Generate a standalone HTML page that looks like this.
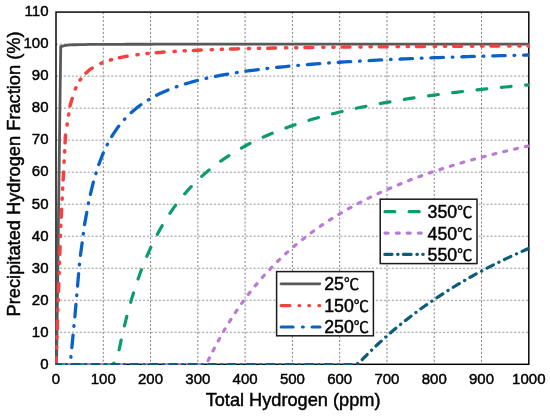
<!DOCTYPE html>
<html><head><meta charset="utf-8"><style>
html,body{margin:0;padding:0;background:#fff;}
svg{display:block;font-family:"Liberation Sans","Noto Sans CJK SC",sans-serif;}
.t text{stroke:#000;stroke-width:0.45px;}
</style></head><body>
<svg width="550" height="418" viewBox="0 0 550 418">
<defs><clipPath id="cp"><rect x="55.20" y="11.28" width="474.40" height="353.82"/></clipPath></defs>
<rect width="550" height="418" fill="#fff"/>
<g stroke="#747474" stroke-width="0.9" stroke-dasharray="2.1,1.85" fill="none"><line x1="103.28" y1="12.08" x2="103.28" y2="364.30"/><line x1="150.56" y1="12.08" x2="150.56" y2="364.30"/><line x1="197.84" y1="12.08" x2="197.84" y2="364.30"/><line x1="245.12" y1="12.08" x2="245.12" y2="364.30"/><line x1="292.40" y1="12.08" x2="292.40" y2="364.30"/><line x1="339.68" y1="12.08" x2="339.68" y2="364.30"/><line x1="386.96" y1="12.08" x2="386.96" y2="364.30"/><line x1="434.24" y1="12.08" x2="434.24" y2="364.30"/><line x1="481.52" y1="12.08" x2="481.52" y2="364.30"/></g>
<g stroke="#7c7c7c" stroke-width="0.8" stroke-dasharray="2.1,1.85" fill="none"><line x1="56.00" y1="332.28" x2="528.80" y2="332.28"/><line x1="56.00" y1="300.26" x2="528.80" y2="300.26"/><line x1="56.00" y1="268.24" x2="528.80" y2="268.24"/><line x1="56.00" y1="236.22" x2="528.80" y2="236.22"/><line x1="56.00" y1="204.20" x2="528.80" y2="204.20"/><line x1="56.00" y1="172.18" x2="528.80" y2="172.18"/><line x1="56.00" y1="140.16" x2="528.80" y2="140.16"/><line x1="56.00" y1="108.14" x2="528.80" y2="108.14"/><line x1="56.00" y1="76.12" x2="528.80" y2="76.12"/><line x1="56.00" y1="44.10" x2="528.80" y2="44.10"/></g>
<rect x="56.00" y="12.08" width="472.80" height="352.22" fill="none" stroke="#000" stroke-width="1.45"/>
<g fill="none" stroke-linejoin="round" stroke-linecap="round" clip-path="url(#cp)" stroke-width="3.2">
<polyline points="56.57,364.60 60.73,46.66 65.46,45.38 70.18,44.95 74.91,44.74 79.64,44.61 84.37,44.53 89.10,44.47 93.82,44.42 98.55,44.38 103.28,44.36 108.01,44.33 112.74,44.31 117.46,44.30 122.19,44.28 126.92,44.27 131.65,44.26 136.38,44.25 141.10,44.24 145.83,44.23 150.56,44.23 155.29,44.22 160.02,44.22 164.74,44.21 169.47,44.21 174.20,44.20 178.93,44.20 183.66,44.19 188.38,44.19 193.11,44.19 197.84,44.19 202.57,44.18 207.30,44.18 212.02,44.18 216.75,44.18 221.48,44.17 226.21,44.17 230.94,44.17 235.66,44.17 240.39,44.17 245.12,44.16 249.85,44.16 254.58,44.16 259.30,44.16 264.03,44.16 268.76,44.16 273.49,44.16 278.22,44.15 282.94,44.15 287.67,44.15 292.40,44.15 297.13,44.15 301.86,44.15 306.58,44.15 311.31,44.15 316.04,44.15 320.77,44.15 325.50,44.14 330.22,44.14 334.95,44.14 339.68,44.14 344.41,44.14 349.14,44.14 353.86,44.14 358.59,44.14 363.32,44.14 368.05,44.14 372.78,44.14 377.50,44.14 382.23,44.14 386.96,44.14 391.69,44.14 396.42,44.14 401.14,44.14 405.87,44.13 410.60,44.13 415.33,44.13 420.06,44.13 424.78,44.13 429.51,44.13 434.24,44.13 438.97,44.13 443.70,44.13 448.42,44.13 453.15,44.13 457.88,44.13 462.61,44.13 467.34,44.13 472.06,44.13 476.79,44.13 481.52,44.13 486.25,44.13 490.98,44.13 495.70,44.13 500.43,44.13 505.16,44.13 509.89,44.13 514.62,44.13 519.34,44.13 524.07,44.13 528.80,44.13" stroke="#595959" stroke-width="2.8" stroke-linecap="butt" stroke-linejoin="miter"/>
<polyline points="56.00,364.60 60.73,226.61 65.46,135.36 70.18,104.94 74.91,89.73 79.64,80.60 84.37,74.52 89.10,70.17 93.82,66.91 98.55,64.38 103.28,62.35 108.01,60.69 112.74,59.31 117.46,58.14 122.19,57.14 126.92,56.27 131.65,55.51 136.38,54.84 141.10,54.24 145.83,53.71 150.56,53.23 155.29,52.79 160.02,52.40 164.74,52.04 169.47,51.70 174.20,51.40 178.93,51.12 183.66,50.86 188.38,50.62 193.11,50.39 197.84,50.18 202.57,49.99 207.30,49.80 212.02,49.63 216.75,49.47 221.48,49.31 226.21,49.17 230.94,49.03 235.66,48.90 240.39,48.78 245.12,48.66 249.85,48.55 254.58,48.45 259.30,48.34 264.03,48.25 268.76,48.16 273.49,48.07 278.22,47.98 282.94,47.90 287.67,47.82 292.40,47.75 297.13,47.68 301.86,47.61 306.58,47.54 311.31,47.48 316.04,47.42 320.77,47.36 325.50,47.30 330.22,47.25 334.95,47.19 339.68,47.14 344.41,47.09 349.14,47.04 353.86,47.00 358.59,46.95 363.32,46.91 368.05,46.87 372.78,46.82 377.50,46.78 382.23,46.75 386.96,46.71 391.69,46.67 396.42,46.63 401.14,46.60 405.87,46.57 410.60,46.53 415.33,46.50 420.06,46.47 424.78,46.44 429.51,46.41 434.24,46.38 438.97,46.35 443.70,46.33 448.42,46.30 453.15,46.27 457.88,46.25 462.61,46.22 467.34,46.20 472.06,46.17 476.79,46.15 481.52,46.13 486.25,46.11 490.98,46.08 495.70,46.06 500.43,46.04 505.16,46.02 509.89,46.00 514.62,45.98 519.34,45.96 524.07,45.94 528.80,45.93" stroke="#f74040" stroke-width="3.5" stroke-dasharray="7.90,10.00,1.20,8.90,1.20,8.00" stroke-dashoffset="1.26"/>
<polyline points="56.00,364.60 60.73,364.60 65.46,364.60 70.18,364.60 74.91,316.27 79.64,261.84 84.37,225.55 89.10,199.63 93.82,180.19 98.55,165.06 103.28,152.97 108.01,143.07 112.74,134.82 117.46,127.84 122.19,121.86 126.92,116.68 131.65,112.14 136.38,108.14 141.10,104.58 145.83,101.40 150.56,98.53 155.29,95.94 160.02,93.59 164.74,91.43 169.47,89.46 174.20,87.65 178.93,85.97 183.66,84.42 188.38,82.98 193.11,81.64 197.84,80.39 202.57,79.22 207.30,78.12 212.02,77.09 216.75,76.12 221.48,75.21 226.21,74.34 230.94,73.52 235.66,72.75 240.39,72.01 245.12,71.32 249.85,70.65 254.58,70.02 259.30,69.42 264.03,68.84 268.76,68.29 273.49,67.77 278.22,67.26 282.94,66.78 287.67,66.32 292.40,65.87 297.13,65.45 301.86,65.04 306.58,64.64 311.31,64.26 316.04,63.89 320.77,63.54 325.50,63.20 330.22,62.87 334.95,62.55 339.68,62.24 344.41,61.95 349.14,61.66 353.86,61.38 358.59,61.11 363.32,60.85 368.05,60.60 372.78,60.35 377.50,60.11 382.23,59.88 386.96,59.65 391.69,59.43 396.42,59.22 401.14,59.01 405.87,58.81 410.60,58.62 415.33,58.42 420.06,58.24 424.78,58.06 429.51,57.88 434.24,57.71 438.97,57.54 443.70,57.38 448.42,57.22 453.15,57.06 457.88,56.91 462.61,56.76 467.34,56.61 472.06,56.47 476.79,56.33 481.52,56.20 486.25,56.06 490.98,55.93 495.70,55.81 500.43,55.68 505.16,55.56 509.89,55.44 514.62,55.32 519.34,55.21 524.07,55.10 528.80,54.99" stroke="#0a62c9" stroke-width="3.3" stroke-dasharray="12.50,8.85,0.70,8.88" stroke-dashoffset="30.69"/>
<polyline points="56.00,364.60 60.73,364.60 65.46,364.60 70.18,364.60 74.91,364.60 79.64,364.60 84.37,364.60 89.10,364.60 93.82,364.60 98.55,364.60 103.28,364.60 108.01,364.60 112.74,364.60 117.46,357.65 122.19,335.25 126.92,315.84 131.65,298.86 136.38,283.87 141.10,270.55 145.83,258.63 150.56,247.91 155.29,238.20 160.02,229.38 164.74,221.32 169.47,213.94 174.20,207.15 178.93,200.87 183.66,195.07 188.38,189.68 193.11,184.66 197.84,179.97 202.57,175.59 207.30,171.48 212.02,167.62 216.75,163.99 221.48,160.56 226.21,157.33 230.94,154.27 235.66,151.37 240.39,148.62 245.12,146.00 249.85,143.52 254.58,141.15 259.30,138.89 264.03,136.74 268.76,134.68 273.49,132.71 278.22,130.83 282.94,129.02 287.67,127.29 292.40,125.62 297.13,124.02 301.86,122.49 306.58,121.01 311.31,119.58 316.04,118.21 320.77,116.89 325.50,115.61 330.22,114.38 334.95,113.19 339.68,112.04 344.41,110.92 349.14,109.84 353.86,108.80 358.59,107.79 363.32,106.81 368.05,105.86 372.78,104.94 377.50,104.04 382.23,103.17 386.96,102.33 391.69,101.51 396.42,100.71 401.14,99.94 405.87,99.18 410.60,98.45 415.33,97.73 420.06,97.04 424.78,96.36 429.51,95.70 434.24,95.05 438.97,94.42 443.70,93.81 448.42,93.21 453.15,92.63 457.88,92.05 462.61,91.50 467.34,90.95 472.06,90.42 476.79,89.90 481.52,89.39 486.25,88.89 490.98,88.41 495.70,87.93 500.43,87.46 505.16,87.01 509.89,86.56 514.62,86.12 519.34,85.69 524.07,85.27 528.80,84.86" stroke="#0b9c6c" stroke-width="3.2" stroke-dasharray="9.80,14.62" stroke-dashoffset="0.05"/>
<polyline points="56.00,364.60 60.73,364.60 65.46,364.60 70.18,364.60 74.91,364.60 79.64,364.60 84.37,364.60 89.10,364.60 93.82,364.60 98.55,364.60 103.28,364.60 108.01,364.60 112.74,364.60 117.46,364.60 122.19,364.60 126.92,364.60 131.65,364.60 136.38,364.60 141.10,364.60 145.83,364.60 150.56,364.60 155.29,364.60 160.02,364.60 164.74,364.60 169.47,364.60 174.20,364.60 178.93,364.60 183.66,364.60 188.38,364.60 193.11,364.60 197.84,364.60 202.57,364.60 207.30,362.30 212.02,352.66 216.75,343.58 221.48,335.02 226.21,326.94 230.94,319.30 235.66,312.06 240.39,305.19 245.12,298.66 249.85,292.45 254.58,286.54 259.30,280.90 264.03,275.52 268.76,270.37 273.49,265.46 278.22,260.75 282.94,256.23 287.67,251.90 292.40,247.75 297.13,243.75 301.86,239.91 306.58,236.22 311.31,232.66 316.04,229.23 320.77,225.93 325.50,222.74 330.22,219.66 334.95,216.68 339.68,213.81 344.41,211.02 349.14,208.33 353.86,205.72 358.59,203.20 363.32,200.75 368.05,198.38 372.78,196.08 377.50,193.84 382.23,191.67 386.96,189.56 391.69,187.51 396.42,185.52 401.14,183.58 405.87,181.70 410.60,179.86 415.33,178.08 420.06,176.34 424.78,174.64 429.51,172.99 434.24,171.38 438.97,169.81 443.70,168.28 448.42,166.78 453.15,165.32 457.88,163.89 462.61,162.50 467.34,161.14 472.06,159.81 476.79,158.51 481.52,157.24 486.25,155.99 490.98,154.78 495.70,153.59 500.43,152.42 505.16,151.28 509.89,150.17 514.62,149.07 519.34,148.00 524.07,146.95 528.80,145.92" stroke="#b97bd7" stroke-width="3.2" stroke-dasharray="2.90,8.17" stroke-dashoffset="1.31"/>
<polyline points="56.00,364.60 60.73,364.60 65.46,364.60 70.18,364.60 74.91,364.60 79.64,364.60 84.37,364.60 89.10,364.60 93.82,364.60 98.55,364.60 103.28,364.60 108.01,364.60 112.74,364.60 117.46,364.60 122.19,364.60 126.92,364.60 131.65,364.60 136.38,364.60 141.10,364.60 145.83,364.60 150.56,364.60 155.29,364.60 160.02,364.60 164.74,364.60 169.47,364.60 174.20,364.60 178.93,364.60 183.66,364.60 188.38,364.60 193.11,364.60 197.84,364.60 202.57,364.60 207.30,364.60 212.02,364.60 216.75,364.60 221.48,364.60 226.21,364.60 230.94,364.60 235.66,364.60 240.39,364.60 245.12,364.60 249.85,364.60 254.58,364.60 259.30,364.60 264.03,364.60 268.76,364.60 273.49,364.60 278.22,364.60 282.94,364.60 287.67,364.60 292.40,364.60 297.13,364.60 301.86,364.60 306.58,364.60 311.31,364.60 316.04,364.60 320.77,364.60 325.50,364.60 330.22,364.60 334.95,364.60 339.68,364.60 344.41,364.60 349.14,364.60 353.86,364.60 358.59,363.30 363.32,358.39 368.05,353.63 372.78,349.01 377.50,344.52 382.23,340.17 386.96,335.94 391.69,331.83 396.42,327.83 401.14,323.95 405.87,320.16 410.60,316.48 415.33,312.90 420.06,309.41 424.78,306.01 429.51,302.69 434.24,299.46 438.97,296.31 443.70,293.23 448.42,290.23 453.15,287.30 457.88,284.44 462.61,281.64 467.34,278.91 472.06,276.25 476.79,273.64 481.52,271.09 486.25,268.59 490.98,266.15 495.70,263.76 500.43,261.43 505.16,259.14 509.89,256.90 514.62,254.71 519.34,252.56 524.07,250.45 528.80,248.39" stroke="#0d5d78" stroke-width="3.2" stroke-dasharray="7.10,6.10,0.20,6.03" stroke-dashoffset="2.94"/>
</g>
<g class="t" fill="#000">
<g font-size="15"><text x="56.00" y="383.8" text-anchor="middle">0</text><text x="103.28" y="383.8" text-anchor="middle">100</text><text x="150.56" y="383.8" text-anchor="middle">200</text><text x="197.84" y="383.8" text-anchor="middle">300</text><text x="245.12" y="383.8" text-anchor="middle">400</text><text x="292.40" y="383.8" text-anchor="middle">500</text><text x="339.68" y="383.8" text-anchor="middle">600</text><text x="386.96" y="383.8" text-anchor="middle">700</text><text x="434.24" y="383.8" text-anchor="middle">800</text><text x="481.52" y="383.8" text-anchor="middle">900</text><text x="528.80" y="383.8" text-anchor="middle">1000</text><text x="48.5" y="368.60" text-anchor="end">0</text><text x="48.5" y="336.58" text-anchor="end">10</text><text x="48.5" y="304.56" text-anchor="end">20</text><text x="48.5" y="272.54" text-anchor="end">30</text><text x="48.5" y="240.52" text-anchor="end">40</text><text x="48.5" y="208.50" text-anchor="end">50</text><text x="48.5" y="176.48" text-anchor="end">60</text><text x="48.5" y="144.46" text-anchor="end">70</text><text x="48.5" y="112.44" text-anchor="end">80</text><text x="48.5" y="80.42" text-anchor="end">90</text><text x="48.5" y="48.40" text-anchor="end">100</text><text x="48.5" y="16.38" text-anchor="end">110</text></g>
<text x="293.1" y="405.6" font-size="18.2" text-anchor="middle">Total Hydrogen (ppm)</text>
<text transform="translate(19.6,173.9) rotate(-90)" font-size="18.25" text-anchor="middle">Precipitated Hydrogen Fraction (%)</text>
</g>
<!-- legends -->
<g fill="#fff" stroke="#1a1a1a" stroke-width="1.5">
<rect x="380.2" y="199.2" width="96.8" height="64.4"/>
<rect x="276.6" y="271.6" width="96.8" height="64.2"/>
</g>
<g fill="none" stroke-width="3.2" stroke-linecap="round">
<path d="M385 211.7H394.8M409.1 211.7H419.2" stroke="#0b9c6c"/>
<path d="M385 233.1H388M396.3 233.1H399.3M407.2 233.1H410.2M418.4 233.1H421.2" stroke="#b97bd7"/>
<path d="M384.8 254.3H392M397.6 254.3H398.1M403.4 254.3H411.1M416.9 254.3H417.4M422.8 254.3H423.2" stroke="#0d5d78"/>
<path d="M281 283.8H319.8" stroke="#595959" stroke-width="2.8"/>
<path d="M281.2 305.6H289.9M299 305.6H299.8M308.8 305.6H309.6M318.8 305.6H319.8" stroke="#f74040"/>
<path d="M281.2 327H293.1M302.5 327H303.3M312.1 327H320" stroke="#0a62c9"/>
</g>
<g class="t" font-size="17.8" fill="#000">
<text x="427.6" y="218">350<tspan font-size="16" textLength="15.2" lengthAdjust="spacingAndGlyphs">℃</tspan></text>
<text x="427.6" y="239.5">450<tspan font-size="16" textLength="15.2" lengthAdjust="spacingAndGlyphs">℃</tspan></text>
<text x="427.6" y="260.7">550<tspan font-size="16" textLength="15.2" lengthAdjust="spacingAndGlyphs">℃</tspan></text>
<text x="324.2" y="290.2">25<tspan font-size="16" textLength="15.2" lengthAdjust="spacingAndGlyphs">℃</tspan></text>
<text x="324.2" y="312">150<tspan font-size="16" textLength="15.2" lengthAdjust="spacingAndGlyphs">℃</tspan></text>
<text x="324.2" y="333.4">250<tspan font-size="16" textLength="15.2" lengthAdjust="spacingAndGlyphs">℃</tspan></text>
</g>
</svg>
</body></html>
